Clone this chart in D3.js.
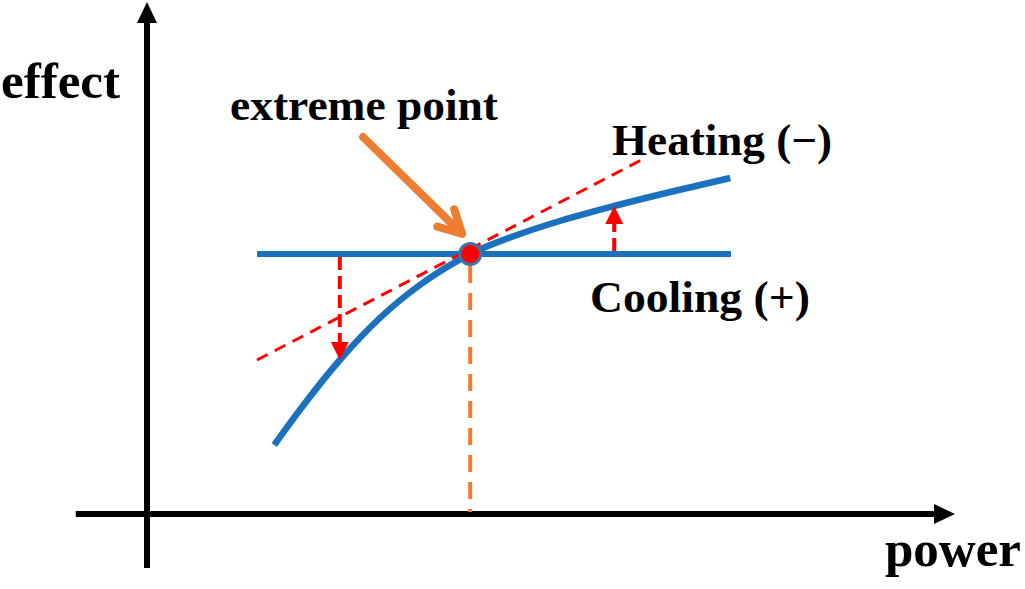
<!DOCTYPE html>
<html>
<head>
<meta charset="utf-8">
<script src="https://cdn.jsdelivr.net/npm/d3@7"></script>
<style>
  html, body { margin: 0; padding: 0; background: #ffffff; }
  svg { display: block; }
  text { font-family: "Liberation Serif", "Times New Roman", serif; font-weight: bold; fill: #000; }
</style>
</head>
<body>
<svg id="chart" width="1025" height="589"></svg>
<script>
// ---- data (arbitrary units: power on x, effect on y) ----
const curvePower  = [15.9, 19.1, 24.1, 29.1, 34.1, 40.4, 46.6, 51.6, 58.4, 65.4, 72.9];
const curveEffect = [13.8, 20.8, 30.8, 39.2, 45.8, 52.0, 56.0, 58.6, 61.6, 64.4, 67.2];
const coolingPower  = [13.75, 73.0];
const coolingEffect = [52.0, 52.0];
const tangentPower  = [13.75, 62.5];
const tangentEffect = [30.8, 71.4];
const extremePoint  = [40.4, 52.0];
const gapPower      = [24.1, 58.4];
const gapFrom       = [52.0, 52.0];
const gapTo         = [30.8, 61.6];
const pointerFrom   = [27.0, 75.4];
const pointerTo     = [39.4, 56.0];
const axisXRange    = [-8.9, 101.0];
const axisYRange    = [-10.8, 102.4];
const labels = {
  yAxis: "effect", xAxis: "power", point: "extreme point",
  heating: "Heating (\u2212)", cooling: "Cooling (+)"
};

const svg = d3.select("#chart");
const x = d3.scaleLinear().domain([0, 100]).range([147, 947]);
const y = d3.scaleLinear().domain([0, 100]).range([514, 14]);

const blue = "#1b71be", red = "#ff0000", orange = "#ed7d31";

// axes
const ax = svg.append("g");
ax.append("line")
  .attr("x1", x(0)).attr("x2", x(0))
  .attr("y1", y(axisYRange[0])).attr("y2", y(axisYRange[1]) + 16)
  .attr("stroke", "#000").attr("stroke-width", 6);
ax.append("path")
  .attr("d", `M${x(0)},${y(axisYRange[1])} L${x(0) - 10},${y(axisYRange[1]) + 21} L${x(0) + 10},${y(axisYRange[1]) + 21} Z`)
  .attr("fill", "#000");
ax.append("line")
  .attr("x1", x(axisXRange[0])).attr("x2", x(axisXRange[1]) - 16)
  .attr("y1", y(0)).attr("y2", y(0))
  .attr("stroke", "#000").attr("stroke-width", 6);
ax.append("path")
  .attr("d", `M${x(axisXRange[1])},${y(0)} L${x(axisXRange[1]) - 21},${y(0) - 10} L${x(axisXRange[1]) - 21},${y(0) + 10} Z`)
  .attr("fill", "#000");

// orange dashed vertical from extreme point
svg.append("line")
  .attr("x1", x(extremePoint[0])).attr("x2", x(extremePoint[0]))
  .attr("y1", y(extremePoint[1]) + 12).attr("y2", y(0) - 2)
  .attr("stroke", orange).attr("stroke-width", 4)
  .attr("stroke-dasharray", "17,10");

// cooling (horizontal) line
svg.append("line")
  .attr("x1", x(coolingPower[0])).attr("x2", x(coolingPower[1]))
  .attr("y1", y(coolingEffect[0])).attr("y2", y(coolingEffect[1]))
  .attr("stroke", blue).attr("stroke-width", 6);

// heating curve
const curveData = curvePower.map((p, i) => [p, curveEffect[i]]);
svg.append("path")
  .datum(curveData)
  .attr("d", d3.line().x(d => x(d[0])).y(d => y(d[1])).curve(d3.curveMonotoneX))
  .attr("fill", "none").attr("stroke", blue).attr("stroke-width", 6.5);

// tangent dashed line
svg.append("line")
  .attr("x1", x(tangentPower[0])).attr("y1", y(tangentEffect[0]))
  .attr("x2", x(tangentPower[1])).attr("y2", y(tangentEffect[1]))
  .attr("stroke", red).attr("stroke-width", 3)
  .attr("stroke-dasharray", "12,8");

// red gap arrows
gapPower.forEach((p, i) => {
  const x0 = x(p), y0 = y(gapFrom[i]), y1 = y(gapTo[i]);
  const dir = y1 > y0 ? 1 : -1;
  const headLen = 18;
  svg.append("line")
    .attr("x1", x0).attr("x2", x0)
    .attr("y1", y0 + dir * 3).attr("y2", y1 - dir * headLen)
    .attr("stroke", red).attr("stroke-width", 4)
    .attr("stroke-dasharray", "13,6");
  svg.append("path")
    .attr("d", `M${x0},${y1} L${x0 - 9},${y1 - dir * headLen} L${x0 + 9},${y1 - dir * headLen} Z`)
    .attr("fill", red);
});

// extreme point dot
svg.append("circle")
  .attr("cx", x(extremePoint[0])).attr("cy", y(extremePoint[1]))
  .attr("r", 10.5)
  .attr("fill", red).attr("stroke", "#41719c").attr("stroke-width", 3);

// orange pointer arrow
{
  const xa = x(pointerFrom[0]), ya = y(pointerFrom[1]);
  const xb = x(pointerTo[0]), yb = y(pointerTo[1]);
  const ang = Math.atan2(yb - ya, xb - xa);
  const L = 26, spread = Math.PI / 6.5;
  const p1 = [xb - L * Math.cos(ang - spread), yb - L * Math.sin(ang - spread)];
  const p2 = [xb - L * Math.cos(ang + spread), yb - L * Math.sin(ang + spread)];
  svg.append("line")
    .attr("x1", xa).attr("y1", ya).attr("x2", xb - 3 * Math.cos(ang)).attr("y2", yb - 3 * Math.sin(ang))
    .attr("stroke", orange).attr("stroke-width", 8).attr("stroke-linecap", "round");
  svg.append("path")
    .attr("d", `M${p1[0]},${p1[1]} L${xb},${yb} L${p2[0]},${p2[1]}`)
    .attr("fill", "none").attr("stroke", orange).attr("stroke-width", 8)
    .attr("stroke-linecap", "round").attr("stroke-linejoin", "round");
}

// labels
function label(txt, px, py, size, len) {
  svg.append("text").attr("x", px).attr("y", py)
    .attr("font-size", size)
    .attr("textLength", len).attr("lengthAdjust", "spacingAndGlyphs")
    .text(txt);
}
label(labels.yAxis, 1, 98, 50, 119);
label(labels.xAxis, 885, 566, 50, 136);
label(labels.point, 230, 120, 44, 268);
label(labels.heating, 612, 155, 44, 220);
label(labels.cooling, 590, 312, 44, 220);
</script>
</body>
</html>
